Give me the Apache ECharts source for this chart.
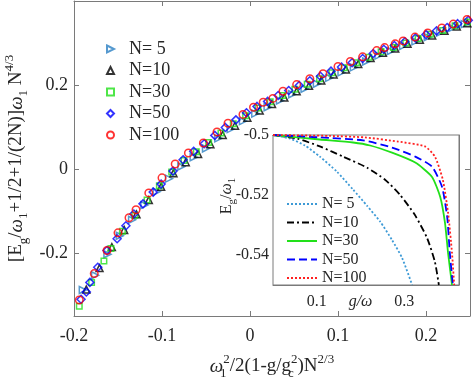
<!DOCTYPE html>
<html><head><meta charset="utf-8">
<script src="https://cdn.jsdelivr.net/npm/echarts@6/dist/echarts.min.js"></script>
<style>html,body{margin:0;padding:0;background:#fff}#c{width:474px;height:381px}</style>
</head><body><div id="c"></div>
<script>
// ---- main panel data ----
const seriesNames = ['N= 5','N=10','N=30','N=50','N=100'];
const xTicks = [-0.2,-0.1,0,0.1,0.2];
const yTicks = [-0.2,0,0.2];
const n5X = [-0.19,-0.176,-0.162,-0.148,-0.134,-0.12,-0.106,-0.092,-0.078,-0.064,-0.05,-0.036,-0.022,-0.008,0.006,0.02,0.034,0.048,0.062,0.076,0.09,0.104,0.118,0.132,0.146,0.16,0.174,0.188,0.202,0.216,0.23,0.244];
const n5Y = [-0.288,-0.253,-0.203,-0.159,-0.121,-0.086,-0.054,-0.023,0.006,0.028,0.049,0.073,0.095,0.114,0.132,0.147,0.163,0.178,0.191,0.203,0.217,0.23,0.242,0.256,0.27,0.281,0.293,0.304,0.314,0.325,0.336,0.345];
const n10X = [-0.186,-0.171,-0.157,-0.143,-0.129,-0.115,-0.101,-0.087,-0.073,-0.059,-0.045,-0.031,-0.017,-0.003,0.011,0.025,0.039,0.053,0.067,0.081,0.095,0.109,0.123,0.137,0.151,0.165,0.179,0.193,0.207,0.221,0.235,0.247];
const n10Y = [-0.287,-0.236,-0.186,-0.145,-0.108,-0.074,-0.042,-0.01,0.016,0.036,0.059,0.081,0.103,0.122,0.139,0.155,0.17,0.185,0.198,0.211,0.225,0.237,0.25,0.264,0.277,0.287,0.298,0.308,0.318,0.329,0.339,0.347];
const n30X = [-0.194,-0.18,-0.166,-0.158,-0.145,-0.131,-0.117,-0.103,-0.089,-0.075,-0.061,-0.047,-0.033,-0.019,-0.005,0.009,0.023,0.037,0.051,0.065,0.079,0.093,0.107,0.121,0.135,0.149,0.163,0.177,0.191,0.205,0.219,0.233,0.247];
const n30Y = [-0.327,-0.27,-0.219,-0.189,-0.148,-0.11,-0.074,-0.04,-0.007,0.02,0.041,0.063,0.086,0.108,0.127,0.145,0.16,0.175,0.19,0.202,0.215,0.229,0.241,0.253,0.266,0.279,0.289,0.3,0.311,0.321,0.33,0.341,0.35];
const n50X = [-0.192,-0.186,-0.182,-0.173,-0.1625,-0.151,-0.141,-0.132,-0.1216,-0.11,-0.101,-0.0875,-0.076,-0.064,-0.052,-0.04,-0.028,-0.016,-0.004,0.008,0.02,0.032,0.044,0.056,0.068,0.08,0.092,0.104,0.116,0.128,0.14,0.152,0.164,0.176,0.188,0.2,0.212,0.224,0.236,0.248];
const n50Y = [-0.31,-0.293,-0.27,-0.234,-0.194,-0.166,-0.135,-0.107,-0.083,-0.055,-0.036,-0.005,0.022,0.042,0.06,0.08,0.099,0.117,0.134,0.149,0.161,0.175,0.187,0.199,0.21,0.221,0.233,0.243,0.253,0.263,0.275,0.285,0.294,0.303,0.312,0.32,0.329,0.337,0.346,0.354];
const n100X = [-0.194,-0.177,-0.1625,-0.15,-0.1375,-0.1295,-0.115,-0.1,-0.085,-0.07,-0.053,-0.0375,-0.025,-0.008,0.004,0.015,0.026,0.0375,0.053,0.068,0.083,0.1,0.114,0.128,0.144,0.153,0.165,0.174,0.1875,0.202,0.218,0.231,0.2466];
const n100Y = [-0.312,-0.249,-0.194,-0.152,-0.116,-0.097,-0.057,-0.021,0.012,0.038,0.062,0.088,0.109,0.13,0.147,0.159,0.168,0.185,0.201,0.215,0.227,0.244,0.256,0.267,0.282,0.289,0.298,0.305,0.314,0.324,0.336,0.345,0.356];

// ---- inset data ----
const insetXTicks = [0.1,0.2,0.3,0.4];
const insetXLabels = [0.1,0.3];
const insetXNameAt = 0.2;
const insetYTicks = [-0.54,-0.52,-0.5];
const g5 = [0,0.039,0.073,0.107,0.146,0.183,0.215,0.245,0.272,0.295,0.318];
const e5 = [-0.5,-0.5012,-0.5035,-0.5072,-0.5122,-0.5182,-0.5236,-0.5289,-0.535,-0.541,-0.55];
const g10 = [0,0.055,0.107,0.16,0.215,0.256,0.29,0.324,0.352,0.37,0.379];
const e10 = [-0.5,-0.5012,-0.5038,-0.5072,-0.5109,-0.5149,-0.5199,-0.5266,-0.5343,-0.5423,-0.55];
const g30 = [0,0.107,0.183,0.222,0.272,0.325,0.363,0.382,0.393,0.4,0.409];
const e30 = [-0.5,-0.5015,-0.5025,-0.5035,-0.5059,-0.5092,-0.5139,-0.5206,-0.5293,-0.5393,-0.55];
const g50 = [0,0.107,0.206,0.272,0.325,0.363,0.386,0.398,0.404,0.411];
const e50 = [-0.5,-0.5008,-0.5018,-0.5042,-0.5072,-0.5105,-0.5172,-0.5273,-0.5393,-0.55];
const g100 = [0,0.13,0.21,0.286,0.347,0.37,0.388,0.4,0.409,0.414];
const e100 = [-0.5,-0.5003,-0.5008,-0.5022,-0.5038,-0.5072,-0.5149,-0.5259,-0.5393,-0.55];

const zip = (a,b) => a.map((v,i)=>[v,b[i]]);
const FONT = "'Liberation Serif','Times New Roman',serif";
const AX = '#7a7a7a', TXT = '#262626';
const c5 = '#2b7fc3', c5l = '#3d9ad6';

function rich(base){
  return {
    a:{fontFamily:FONT,fontSize:base,color:TXT,lineHeight:Math.round(base*1.4)},
    i:{fontFamily:FONT,fontSize:base,fontStyle:'italic',color:TXT,lineHeight:Math.round(base*1.4)},
    s:{fontFamily:FONT,fontSize:Math.round(base*0.7),color:TXT,verticalAlign:'bottom',lineHeight:Math.round(base*0.7)},
    s0:{fontFamily:FONT,fontSize:Math.round(base*0.7),color:TXT,verticalAlign:'bottom',lineHeight:Math.round(base*0.7),width:0},
    p:{fontFamily:FONT,fontSize:Math.round(base*0.7),color:TXT,verticalAlign:'top',lineHeight:Math.round(base*0.7)}
  };
}
function axisCommon(){
  return {
    nameMoveOverlap:false,
    axisLine:{show:true,onZero:false,lineStyle:{color:AX,width:1}},
    axisTick:{show:true,inside:true,length:5,lineStyle:{color:AX}},
    splitLine:{show:false},
    axisLabel:{fontFamily:FONT,fontSize:18,color:TXT}
  };
}

const scatterCfg = [
  {name:seriesNames[0],x:n5X,y:n5Y,sym:'triangle',rot:-90,icon:'path://M0,0L10,5L0,10Z',color:c5,size:7},
  {name:seriesNames[1],x:n10X,y:n10Y,sym:'triangle',rot:0,icon:'triangle',color:'#000000',size:7},
  {name:seriesNames[2],x:n30X,y:n30Y,sym:'rect',rot:0,icon:'rect',color:'#22e01a',size:5.5},
  {name:seriesNames[3],x:n50X,y:n50Y,sym:'diamond',rot:0,icon:'diamond',color:'#0000ff',size:8},
  {name:seriesNames[4],x:n100X,y:n100Y,sym:'circle',rot:0,icon:'circle',color:'#ff0000',size:7.5}
];
const lineCfg = [
  {g:g5,e:e5,color:c5l,type:[2,2]},
  {g:g10,e:e10,color:'#000000',type:[7,3,2,3]},
  {g:g30,e:e30,color:'#22e01a',type:'solid'},
  {g:g50,e:e50,color:'#0000ff',type:[8,4]},
  {g:g100,e:e100,color:'#ff2020',type:[2,2]}
];

const series = [];
scatterCfg.forEach(s=>{
  series.push({
    type:'scatter', name:s.name, xAxisIndex:0, yAxisIndex:0,
    data:zip(s.x,s.y), symbol:s.sym, symbolRotate:s.rot, symbolSize:s.size,
    itemStyle:{color:'rgba(0,0,0,0)',borderColor:s.color,borderWidth:1.5},
    emphasis:{disabled:true}, z:3
  });
});
lineCfg.forEach((l,i)=>{
  series.push({
    type:'line', name:'L'+i, xAxisIndex:2, yAxisIndex:2,
    data:zip(l.g,l.e), showSymbol:false, symbol:'none', smooth:0.2,
    lineStyle:{color:l.color,width:1.8,type:l.type}, itemStyle:{color:l.color},
    emphasis:{disabled:true}, z:5
  });
});

const option = {
  animation:false,
  backgroundColor:'#fff',
  grid:[
    {left:74,right:4,top:1,bottom:65,outerBoundsMode:'none',containLabel:false},
    {left:273,top:135,width:186,height:150,show:true,backgroundColor:'#fff',borderColor:AX,borderWidth:1,z:4,outerBoundsMode:'none',containLabel:false}
  ],
  legend:[
    {data:scatterCfg.map(s=>({name:s.name,icon:s.icon})), orient:'vertical', left:101, top:35,
     itemWidth:7, itemHeight:7, itemGap:3.5, symbolKeepAspect:true,
     textStyle:{fontFamily:FONT,fontSize:18,color:TXT,lineHeight:17,padding:[0,0,0,10]}},
    {data:['L0','L1','L2','L3','L4'], orient:'vertical', left:281, top:191,
     itemWidth:30, itemHeight:10, itemGap:2.5, z:6,
     itemStyle:{color:'rgba(0,0,0,0)',borderWidth:0,opacity:0},
     formatter:n=>seriesNames[+n.slice(1)],
     textStyle:{fontFamily:FONT,fontSize:16,color:TXT,lineHeight:16}}
  ],
  xAxis:[
    Object.assign(axisCommon(),{gridIndex:0,type:'value',min:-0.2,max:0.25,position:'bottom',
      axisTick:{show:true,inside:true,length:5,lineStyle:{color:AX},customValues:xTicks},
      axisLabel:{fontFamily:FONT,fontSize:18,color:TXT,margin:11,customValues:xTicks},
      name:'{i|ω}{s0|1}{p|2}{a|/2(1-g/g}{s0|c}{p|2}{a|)N}{p|2/3}',
      nameLocation:'middle', nameGap:37, nameTextStyle:{rich:rich(19)}}),
    Object.assign(axisCommon(),{gridIndex:0,type:'value',min:-0.2,max:0.25,position:'top',
      axisTick:{show:true,inside:true,length:5,lineStyle:{color:AX},customValues:xTicks},
      axisLabel:{show:false}}),
    Object.assign(axisCommon(),{gridIndex:1,type:'value',min:0,max:0.425,position:'bottom',
      axisTick:{show:true,inside:true,length:4,lineStyle:{color:AX},customValues:insetXTicks},
      axisLabel:{show:false}}),
    Object.assign(axisCommon(),{gridIndex:1,type:'value',min:0,max:0.425,position:'top',
      axisTick:{show:true,inside:true,length:4,lineStyle:{color:AX},customValues:insetXTicks},
      axisLabel:{show:false}})
  ],
  yAxis:[
    Object.assign(axisCommon(),{gridIndex:0,type:'value',min:-0.35,max:0.4,position:'left',
      axisTick:{show:true,inside:true,length:5,lineStyle:{color:AX},customValues:yTicks},
      axisLabel:{fontFamily:FONT,fontSize:18,color:TXT,margin:6,customValues:yTicks},
      name:'{a|[E}{s|g}{a|/}{i|ω}{s|1}{a|+1/2+1/(2N)]}{i|ω}{s|1}{a| N}{p|4/3}',
      nameLocation:'middle', nameRotate:90, nameGap:44, nameTextStyle:{rich:rich(19)}}),
    Object.assign(axisCommon(),{gridIndex:0,type:'value',min:-0.35,max:0.4,position:'right',
      axisTick:{show:true,inside:true,length:5,lineStyle:{color:AX},customValues:yTicks},
      axisLabel:{show:false}}),
    Object.assign(axisCommon(),{gridIndex:1,type:'value',min:-0.55,max:-0.5,position:'left',
      axisTick:{show:true,inside:true,length:4,lineStyle:{color:AX},customValues:insetYTicks},
      axisLabel:{fontFamily:FONT,fontSize:16,color:TXT,margin:4,customValues:insetYTicks},
      name:'{a|E}{s|g}{a|/}{i|ω}{s|1}', nameLocation:'middle', nameRotate:90, nameGap:35,
      nameTextStyle:{rich:rich(16),padding:[0,0,0,28]}}),
    Object.assign(axisCommon(),{gridIndex:1,type:'value',min:-0.55,max:-0.5,position:'right',
      axisTick:{show:true,inside:true,length:4,lineStyle:{color:AX},customValues:insetYTicks},
      axisLabel:{show:false}})
  ],
  series
};
const chart = echarts.init(document.getElementById('c'),null,{renderer:'canvas'});
chart.setOption(option);

// inset x-axis tick labels and name, positioned through the inset's own scale
const yBase = chart.convertToPixel({yAxisIndex:2}, -0.55);
const gfx = insetXLabels.map(v=>({
  type:'text', z:10,
  x: chart.convertToPixel({xAxisIndex:2}, v), y: yBase + 17,
  style:{text:v.toFixed(1), fontFamily:FONT, fontSize:16, fill:TXT, align:'center', verticalAlign:'middle'}
}));
gfx.push({
  type:'text', z:10,
  x: chart.convertToPixel({xAxisIndex:2}, insetXNameAt), y: yBase + 17,
  style:{text:'g/ω', fontFamily:FONT, fontSize:16, fontStyle:'italic', fill:TXT, align:'center', verticalAlign:'middle'}
});
chart.setOption({graphic:gfx});
</script></body></html>
